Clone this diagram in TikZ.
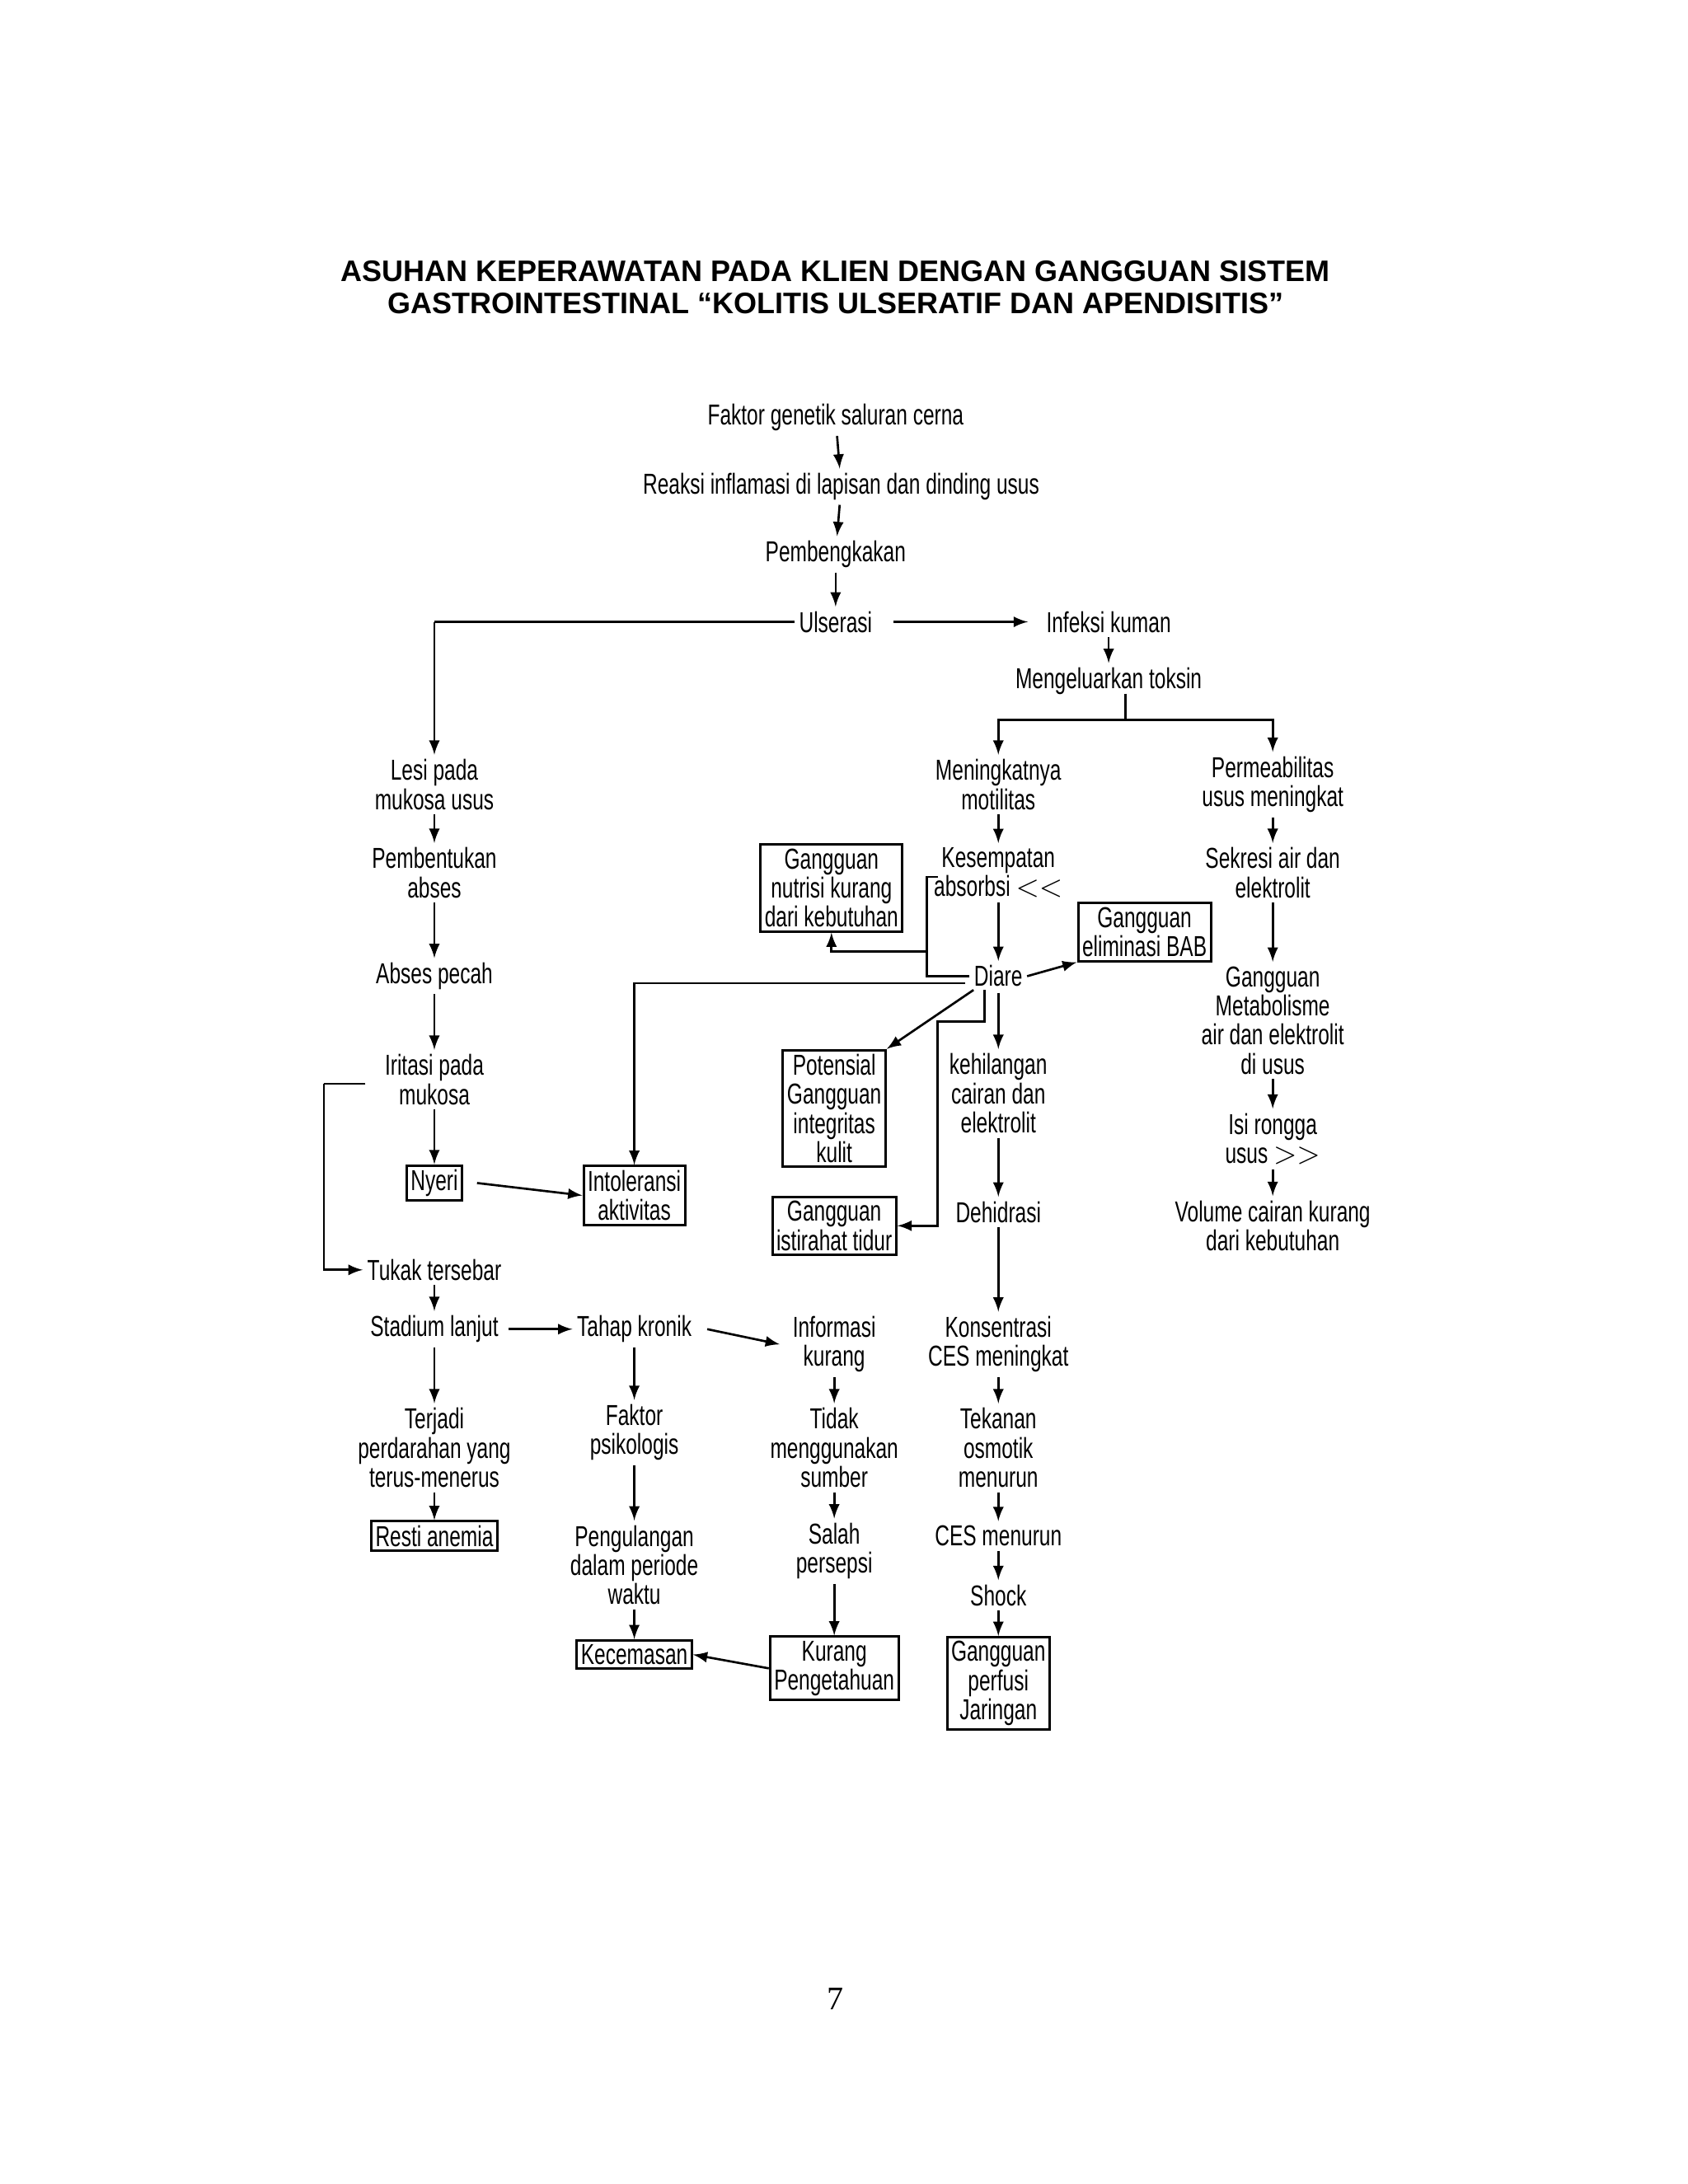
\documentclass[tikz,border=0pt]{standalone}
\usepackage{fontspec}
\setmainfont{Liberation Sans}
\newfontfamily\narrowfont{Liberation Sans}[FakeStretch=0.7]
\newfontfamily\pagefont{Liberation Serif}
\usetikzlibrary{positioning}
\usetikzlibrary{calc}

\begin{document}
\begin{tikzpicture}[x=0.01764cm, y=-0.01764cm]
  \useasboundingbox (0,0) rectangle (1224,1584);

  \tikzset{node common/.style={align=center, inner sep=1.5pt, font=\narrowfont\fontsize{10.5}{10.6}\selectfont}}
  \tikzset{step node/.style={node common}}
  \tikzset{diag node/.style={node common, draw, line width=0.9pt}}
  \tikzset{flow/.style={->, >=latex, line width=0.8pt}}

  % title
  \node[font=\bfseries\fontsize{10.8}{12}\selectfont] (title1) at (606,197) {ASUHAN KEPERAWATAN PADA KLIEN DENGAN GANGGUAN SISTEM};
  \node[font=\bfseries\fontsize{10.8}{12}\selectfont] (title2) at (606,220) {GASTROINTESTINAL ``KOLITIS ULSERATIF DAN APENDISITIS''};

  % middle chain
  \node[step node] (genetik) at (606,303) {Faktor genetik saluran cerna};
  \node[step node] (reaksi) at (610,353) {Reaksi inflamasi di lapisan dan dinding usus};
  \node[step node] (bengkak) at (606,402) {Pembengkakan};
  \node[step node] (ulser) at (606,451) {Ulserasi};
  \node[step node] (infeksi) at (804,451) {Infeksi kuman};
  \node[step node] (toksin) at (804,494) {Mengeluarkan toksin};

  % right branch
  \node[step node] (motil) at (724,569) {Meningkatnya\\motilitas};
  \node[step node] (perme) at (923,569) {Permeabilitas\\usus meningkat};
  \node[step node] (absorb) at (724,633) {Kesempatan\\absorbsi $<<$};
  \node[step node] (sekresi) at (923,633) {Sekresi air dan\\elektrolit};
  \node[diag node] (nutrisi) at (603,644) {Gangguan\\nutrisi kurang\\dari kebutuhan};
  \node[diag node] (eliminasi) at (830,676) {Gangguan\\eliminasi BAB};
  \node[step node] (diare) at (724,708) {Diare};
  \node[step node] (metab) at (923,740) {Gangguan\\Metabolisme\\air dan elektrolit\\di usus};
  \node[diag node] (kulit) at (605,804) {Potensial\\Gangguan\\integritas\\kulit};
  \node[step node] (hilang) at (724,793) {kehilangan\\cairan dan\\elektrolit};
  \node[step node] (rongga) at (923,826) {Isi rongga\\usus $>>$};
  \node[diag node] (tidur) at (605,889) {Gangguan\\istirahat tidur};
  \node[step node] (dehid) at (724,879) {Dehidrasi};
  \node[step node] (volume) at (923,889) {Volume cairan kurang\\dari kebutuhan};
  \node[step node] (konsen) at (724,975) {Konsentrasi\\CES meningkat};
  \node[step node] (tekanan) at (724,1050) {Tekanan\\osmotik\\menurun};
  \node[step node] (cesturun) at (724,1114) {CES menurun};
  \node[step node] (shock) at (724,1157) {Shock};
  \node[diag node] (perfusi) at (724,1221) {Gangguan\\perfusi\\Jaringan};

  % left branch
  \node[step node] (lesi) at (315,569) {Lesi pada\\mukosa usus};
  \node[step node] (abses) at (315,633) {Pembentukan\\abses};
  \node[step node] (pecah) at (315,708) {Abses pecah};
  \node[step node] (iritasi) at (315,783) {Iritasi pada\\mukosa};
  \node[diag node] (nyeri) at (315,858) {Nyeri};
  \node[diag node] (intol) at (460,867) {Intoleransi\\aktivitas};
  \node[step node] (tukak) at (315,921) {Tukak tersebar};
  \node[step node] (stadium) at (315,964) {Stadium lanjut};
  \node[step node] (kronik) at (460,964) {Tahap kronik};
  \node[step node] (info) at (605,975) {Informasi\\kurang};
  \node[step node] (darah) at (315,1050) {Terjadi\\perdarahan yang\\terus-menerus};
  \node[step node] (psiko) at (460,1039) {Faktor\\psikologis};
  \node[step node] (sumber) at (605,1050) {Tidak\\menggunakan\\sumber};
  \node[diag node] (anemia) at (315,1114) {Resti anemia};
  \node[step node] (ulang) at (460,1135) {Pengulangan\\dalam periode\\waktu};
  \node[step node] (persepsi) at (605,1125) {Salah\\persepsi};
  \node[diag node] (cemas) at (460,1200) {Kecemasan};
  \node[diag node] (tahu) at (605,1210) {Kurang\\Pengetahuan};

  \node[font=\pagefont\fontsize{12}{14}\selectfont] (page) at (606,1450) {7};

  % straight arrows down
  \foreach \a/\b in {genetik/reaksi, reaksi/bengkak, bengkak/ulser, infeksi/toksin,
      motil/absorb, absorb/diare, perme/sekresi, sekresi/metab, metab/rongga, rongga/volume,
      hilang/dehid, dehid/konsen, konsen/tekanan, tekanan/cesturun, cesturun/shock, shock/perfusi,
      lesi/abses, abses/pecah, pecah/iritasi, iritasi/nyeri, tukak/stadium, stadium/darah, darah/anemia,
      kronik/psiko, psiko/ulang, ulang/cemas, info/sumber, sumber/persepsi, persepsi/tahu}
    \draw[flow] (\a) -- (\b);

  % sideways arrows
  \draw[flow] (ulser.east) ++(12,0) -- ($(infeksi.west)+(-10,0)$);
  \draw[flow] (nyeri.east) ++(10,0) -- (intol.west);
  \draw[flow] (stadium.east) ++(4,0) -- (kronik.west);
  \draw[flow] (kronik.east) ++(8,0) -- ($(info.west)+(-6,0)$);
  \draw[flow] (tahu.west) -- (cemas.east);
  \draw[line width=0.8pt] (ulser.west) -- (315,451) coordinate (lesi top);
  \draw[flow] (lesi top) -- (lesi.north);

  % toxin split
  \coordinate (split) at (816,522);
  \draw[line width=0.8pt] (816,503) -- (split);
  \draw[flow] (split) -| (motil.north);
  \draw[flow] (split) -| (perme.north);

  % diare outputs
  \coordinate (bracket) at (672,708);
  \draw[line width=0.8pt] (diare.west) -- (bracket) -- (672,636) -- (680,636);
  \draw[flow] (672,690) -| (nutrisi.south);
  \draw[flow] (diare.east) -- (eliminasi.south west);
  \draw[flow] (700,713) -| (intol.north);
  \draw[flow] (706,718) -- (kulit.north east);
  \draw[flow] (714,718) -- (714,741) -- (680,741) |- (tidur.east);
  \draw[flow] (724,720) -- (hilang.north);

  % iritasi to tukak
  \draw[line width=0.8pt] (265,786) -- (235,786) coordinate (loop);
  \draw[flow] (loop) |- (tukak.west);
\end{tikzpicture}
\end{document}
